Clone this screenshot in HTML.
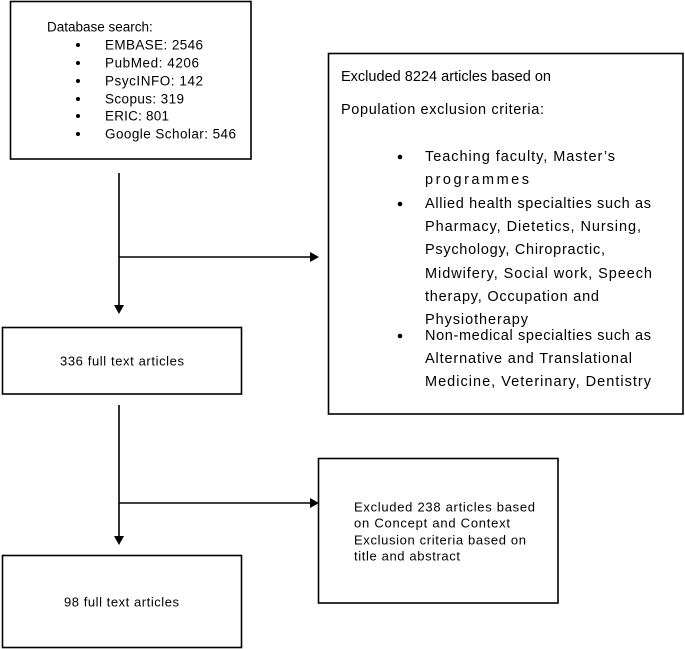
<!DOCTYPE html>
<html><head><meta charset="utf-8"><style>html,body{margin:0;padding:0;background:#fff}svg{display:block}</style></head>
<body>
<svg width="685" height="649" viewBox="0 0 685 649" xmlns="http://www.w3.org/2000/svg" font-family="Liberation Sans, sans-serif" fill="#000">
<g fill="none" stroke="#000" stroke-width="1.6">
<rect x="10.5" y="1.5" width="240.5" height="157.5"/>
<rect x="328.5" y="53.5" width="354.5" height="360.5"/>
<rect x="2.5" y="327.5" width="239" height="66.5"/>
<rect x="318.5" y="458.5" width="239.5" height="144.5"/>
<rect x="2.5" y="555.5" width="239" height="92"/>
<path d="M119 173V306M119 257H311M119 405V537M119 503H311"/>
</g>
<polygon points="114,305 124,305 119,314"/>
<polygon points="310,252 310,262 319,257"/>
<polygon points="114,536 124,536 119,545"/>
<polygon points="310,498 310,508 319,503"/>
<g font-size="13.5" dominant-baseline="central">
<text x="47" y="27">Database search:</text>
<text x="105" y="45" textLength="98">EMBASE: 2546</text>
<text x="105" y="63" textLength="94">PubMed: 4206</text>
<text x="105" y="81" textLength="98">PsycINFO: 142</text>
<text x="105" y="99" textLength="79">Scopus: 319</text>
<text x="105" y="116" textLength="64">ERIC: 801</text>
<text x="105" y="134" textLength="131">Google Scholar: 546</text>
</g>
<g><circle cx="78" cy="45" r="2"/><circle cx="78" cy="63" r="2"/><circle cx="78" cy="81" r="2"/><circle cx="78" cy="99" r="2"/><circle cx="78" cy="116" r="2"/><circle cx="78" cy="134" r="2"/></g>
<g font-size="14.5" dominant-baseline="central">
<text x="341" y="77" textLength="210">Excluded 8224 articles based on</text>
<text x="341" y="110" textLength="203">Population exclusion criteria:</text>
<text x="425" y="157" textLength="190">Teaching faculty, Master’s</text>
<text x="425" y="180" textLength="104">programmes</text>
<text x="425" y="204" textLength="226">Allied health specialties such as</text>
<text x="425" y="227" textLength="216">Pharmacy, Dietetics, Nursing,</text>
<text x="425" y="250" textLength="180">Psychology, Chiropractic,</text>
<text x="425" y="274" textLength="227">Midwifery, Social work, Speech</text>
<text x="425" y="297" textLength="174">therapy, Occupation and</text>
<text x="425" y="320" textLength="103">Physiotherapy</text>
<text x="425" y="336" textLength="226">Non-medical specialties such as</text>
<text x="425" y="359" textLength="207">Alternative and Translational</text>
<text x="425" y="382" textLength="226">Medicine, Veterinary, Dentistry</text>
</g>
<g><circle cx="400" cy="157" r="2.3"/><circle cx="400" cy="204" r="2.3"/><circle cx="400" cy="336" r="2.3"/></g>
<g font-size="13" dominant-baseline="central">
<text x="60" y="361" textLength="124">336 full text articles</text>
<text x="64" y="602" textLength="115">98 full text articles</text>
<text x="354" y="507" textLength="181">Excluded 238 articles based</text>
<text x="354" y="523" textLength="156">on Concept and Context</text>
<text x="354" y="540" textLength="172">Exclusion criteria based on</text>
<text x="354" y="556" textLength="106">title and abstract</text>
</g>
</svg>
</body></html>
